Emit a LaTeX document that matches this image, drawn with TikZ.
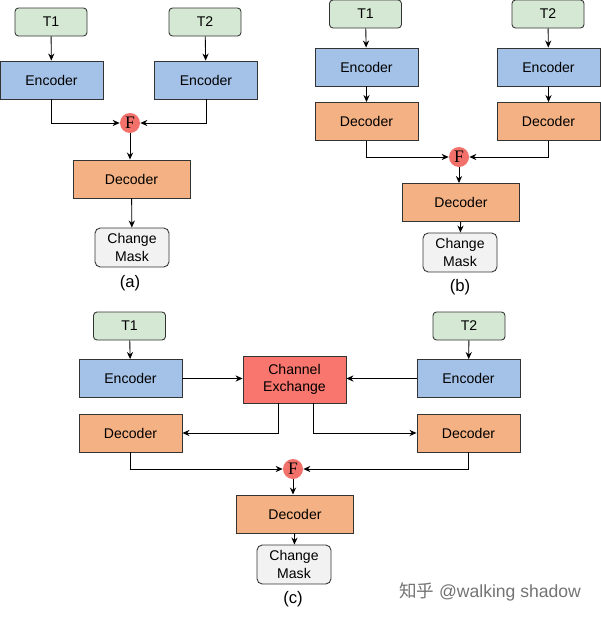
\documentclass[tikz,border=0pt]{standalone}
\usepackage{fontspec}
\setmainfont{Liberation Sans}
\newfontfamily\cjk{Noto Sans CJK SC}
\newfontfamily\fsym{Liberation Serif}
\usetikzlibrary{arrows.meta}
\definecolor{tgreen}{HTML}{D5E8D4}
\definecolor{encblue}{HTML}{A4C2E8}
\definecolor{decorange}{HTML}{F4B183}
\definecolor{exred}{HTML}{F8766D}
\definecolor{fred}{HTML}{F2716B}
\tikzset{
	box/.style={draw=black!80, line width=0.5pt, font=\fontsize{8}{10}\selectfont, align=center, inner sep=1pt},
	tin/.style={box, fill=tgreen, rounded corners=2pt, minimum width=1.44cm, minimum height=0.56cm},
	enc/.style={box, fill=encblue, minimum width=2.06cm, minimum height=0.76cm},
	dec/.style={box, fill=decorange, minimum width=2.06cm, minimum height=0.76cm},
	bigdec/.style={dec, minimum width=2.34cm},
	mask/.style={box, fill=black!5, rounded corners=3pt, minimum width=1.48cm, minimum height=0.78cm},
	fuse/.style={circle, fill=fred, inner sep=0pt, minimum size=0.4cm, font=\fontsize{10}{10}\fsym\selectfont},
	lab/.style={font=\fontsize{9.5}{11}\selectfont},
	arr/.style={-{Stealth[length=4pt,width=3.5pt]}, line width=0.5pt, draw=black}
}
\begin{document}
\begin{tikzpicture}
	\useasboundingbox (0,0) rectangle (12,-12.38);
	
	% (a)
	\node[tin] (ta1) at (1.02,-0.44) {T1};
	\node[tin] (ta2) at (4.1,-0.44) {T2};
	\node[enc] (ea1) at (1.03,-1.6) {Encoder};
	\node[enc] (ea2) at (4.12,-1.6) {Encoder};
	\node[fuse] (fa) at (2.6,-2.46) {F};
	\node[bigdec] (da) at (2.63,-3.58) {Decoder};
	\node[mask] (ma) at (2.64,-4.95) {Change\\Mask};
	\node[lab] (la) at (2.6,-5.66) {(a)};
	
	\draw[arr] (ta1) -- (ea1);
	\draw[arr] (ta2) -- (ea2);
	\draw[arr] (ea1.south) |- (fa);
	\draw[arr] (ea2.south) |- (fa);
	\draw[arr] (fa) -- (fa |- da.north);
	\draw[arr] (da) -- (ma);
	
	% (b)
	\node[tin] (tb1) at (7.31,-0.28) {T1};
	\node[tin] (tb2) at (10.96,-0.28) {T2};
	\node[enc] (eb1) at (7.33,-1.34) {Encoder};
	\node[enc] (eb2) at (10.97,-1.34) {Encoder};
	\node[dec] (db1) at (7.33,-2.43) {Decoder};
	\node[dec] (db2) at (10.97,-2.43) {Decoder};
	\node[fuse] (fb) at (9.18,-3.14) {F};
	\node[bigdec] (db) at (9.22,-4.05) {Decoder};
	\node[mask] (mb) at (9.2,-5.05) {Change\\Mask};
	\node[lab] (lb) at (9.2,-5.74) {(b)};
	
	\draw[arr] (tb1) -- (eb1);
	\draw[arr] (tb2) -- (eb2);
	\draw[arr] (eb1) -- (db1);
	\draw[arr] (eb2) -- (db2);
	\draw[arr] (db1.south) |- (fb);
	\draw[arr] (db2.south) |- (fb);
	\draw[arr] (fb) -- (fb |- db.north);
	\draw[arr] (db) -- (mb);
	
	% (c)
	\node[tin] (tc1) at (2.59,-6.52) {T1};
	\node[tin] (tc2) at (9.38,-6.52) {T2};
	\node[enc] (ec1) at (2.61,-7.57) {Encoder};
	\node[box, fill=exred, minimum width=2.06cm, minimum height=0.94cm] (ce) at (5.89,-7.59) {Channel\\Exchange};
	\node[enc] (ec2) at (9.37,-7.57) {Encoder};
	\node[dec] (dc1) at (2.61,-8.66) {Decoder};
	\node[dec] (dc2) at (9.37,-8.66) {Decoder};
	\node[fuse] (fc) at (5.86,-9.38) {F};
	\node[bigdec] (dc) at (5.9,-10.28) {Decoder};
	\node[mask] (mc) at (5.88,-11.29) {Change\\Mask};
	\node[lab] (lc) at (5.86,-11.98) {(c)};
	
	\coordinate (cel) at ([xshift=-0.33cm]ce.south);
	\coordinate (cer) at ([xshift=0.37cm]ce.south);
	
	\draw[arr] (tc1) -- (ec1);
	\draw[arr] (tc2) -- (ec2);
	\draw[arr] (ec1) -- (ec1 -| ce.west);
	\draw[arr] (ec2) -- (ec2 -| ce.east);
	\draw[arr] (cel) |- (dc1);
	\draw[arr] (cer) |- (dc2);
	\draw[arr] (dc1.south) |- (fc);
	\draw[arr] (dc2.south) |- (fc);
	\draw[arr] (fc) -- (fc |- dc.north);
	\draw[arr] (dc) -- (mc);
	
	\node[text=black!55, font=\fontsize{10}{12}\selectfont] (wm) at (9.8,-11.84) {{\cjk 知乎} @walking shadow};
	
\end{tikzpicture}
\end{document}
